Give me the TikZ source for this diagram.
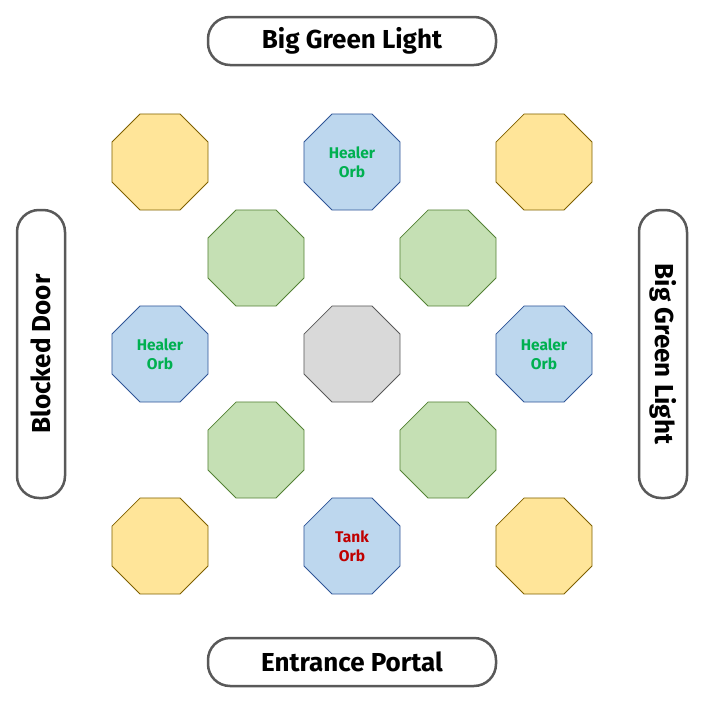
\documentclass[tikz,border=0pt]{standalone}
\usepackage{fontspec}
\setmainfont{Fira Sans}
\usetikzlibrary{shapes.geometric}
\begin{document}
\begin{tikzpicture}[x=1pt,y=-1pt,
 oct/.style={regular polygon,regular polygon sides=8,minimum size=104pt,inner sep=0pt,line width=0.8pt,align=center,font=\fontsize{15.5}{19}\selectfont\bfseries},
 yel/.style={oct,fill={rgb,255:red,255;green,229;blue,153},draw={rgb,255:red,127;green,96;blue,0}},
 blu/.style={oct,fill={rgb,255:red,189;green,215;blue,238},draw={rgb,255:red,47;green,85;blue,151}},
 grn/.style={oct,fill={rgb,255:red,197;green,224;blue,180},draw={rgb,255:red,84;green,130;blue,53}},
 gry/.style={oct,fill={rgb,255:red,217;green,217;blue,217},draw={rgb,255:red,89;green,89;blue,89}},
 lab/.style={draw={rgb,255:red,89;green,89;blue,89},line width=2.5pt,rounded corners=22pt,fill=white,font=\fontsize{26}{30}\selectfont\bfseries,inner sep=0pt,minimum width=288pt,minimum height=48pt}]
\useasboundingbox (0,0) rectangle (705,704);
\definecolor{hg}{RGB}{0,176,80}\definecolor{tr}{RGB}{192,0,0}
\node[yel] (y1) at (160,162) {};
\node[yel] (y2) at (544,162) {};
\node[yel] (y3) at (160,546) {};
\node[yel] (y4) at (544,546) {};
\node[blu,text=hg] (b1) at (352,162) {Healer\\Orb};
\node[blu,text=hg] (b2) at (160,354) {Healer\\Orb};
\node[blu,text=hg] (b3) at (544,354) {Healer\\Orb};
\node[blu,text=tr] (b4) at (352,546) {Tank\\Orb};
\node[grn] (g1) at (256,258) {};
\node[grn] (g2) at (448,258) {};
\node[grn] (g3) at (256,450) {};
\node[grn] (g4) at (448,450) {};
\node[gry] (c) at (352,354) {};
\node[lab] (t) at (352,41) {Big Green Light};
\node[lab] (bt) at (352,662) {Entrance Portal};
\node[lab,rotate=90] (l) at (41,354) {Blocked Door};
\node[lab,rotate=-90] (r) at (663,354) {Big Green Light};
\end{tikzpicture}
\end{document}
